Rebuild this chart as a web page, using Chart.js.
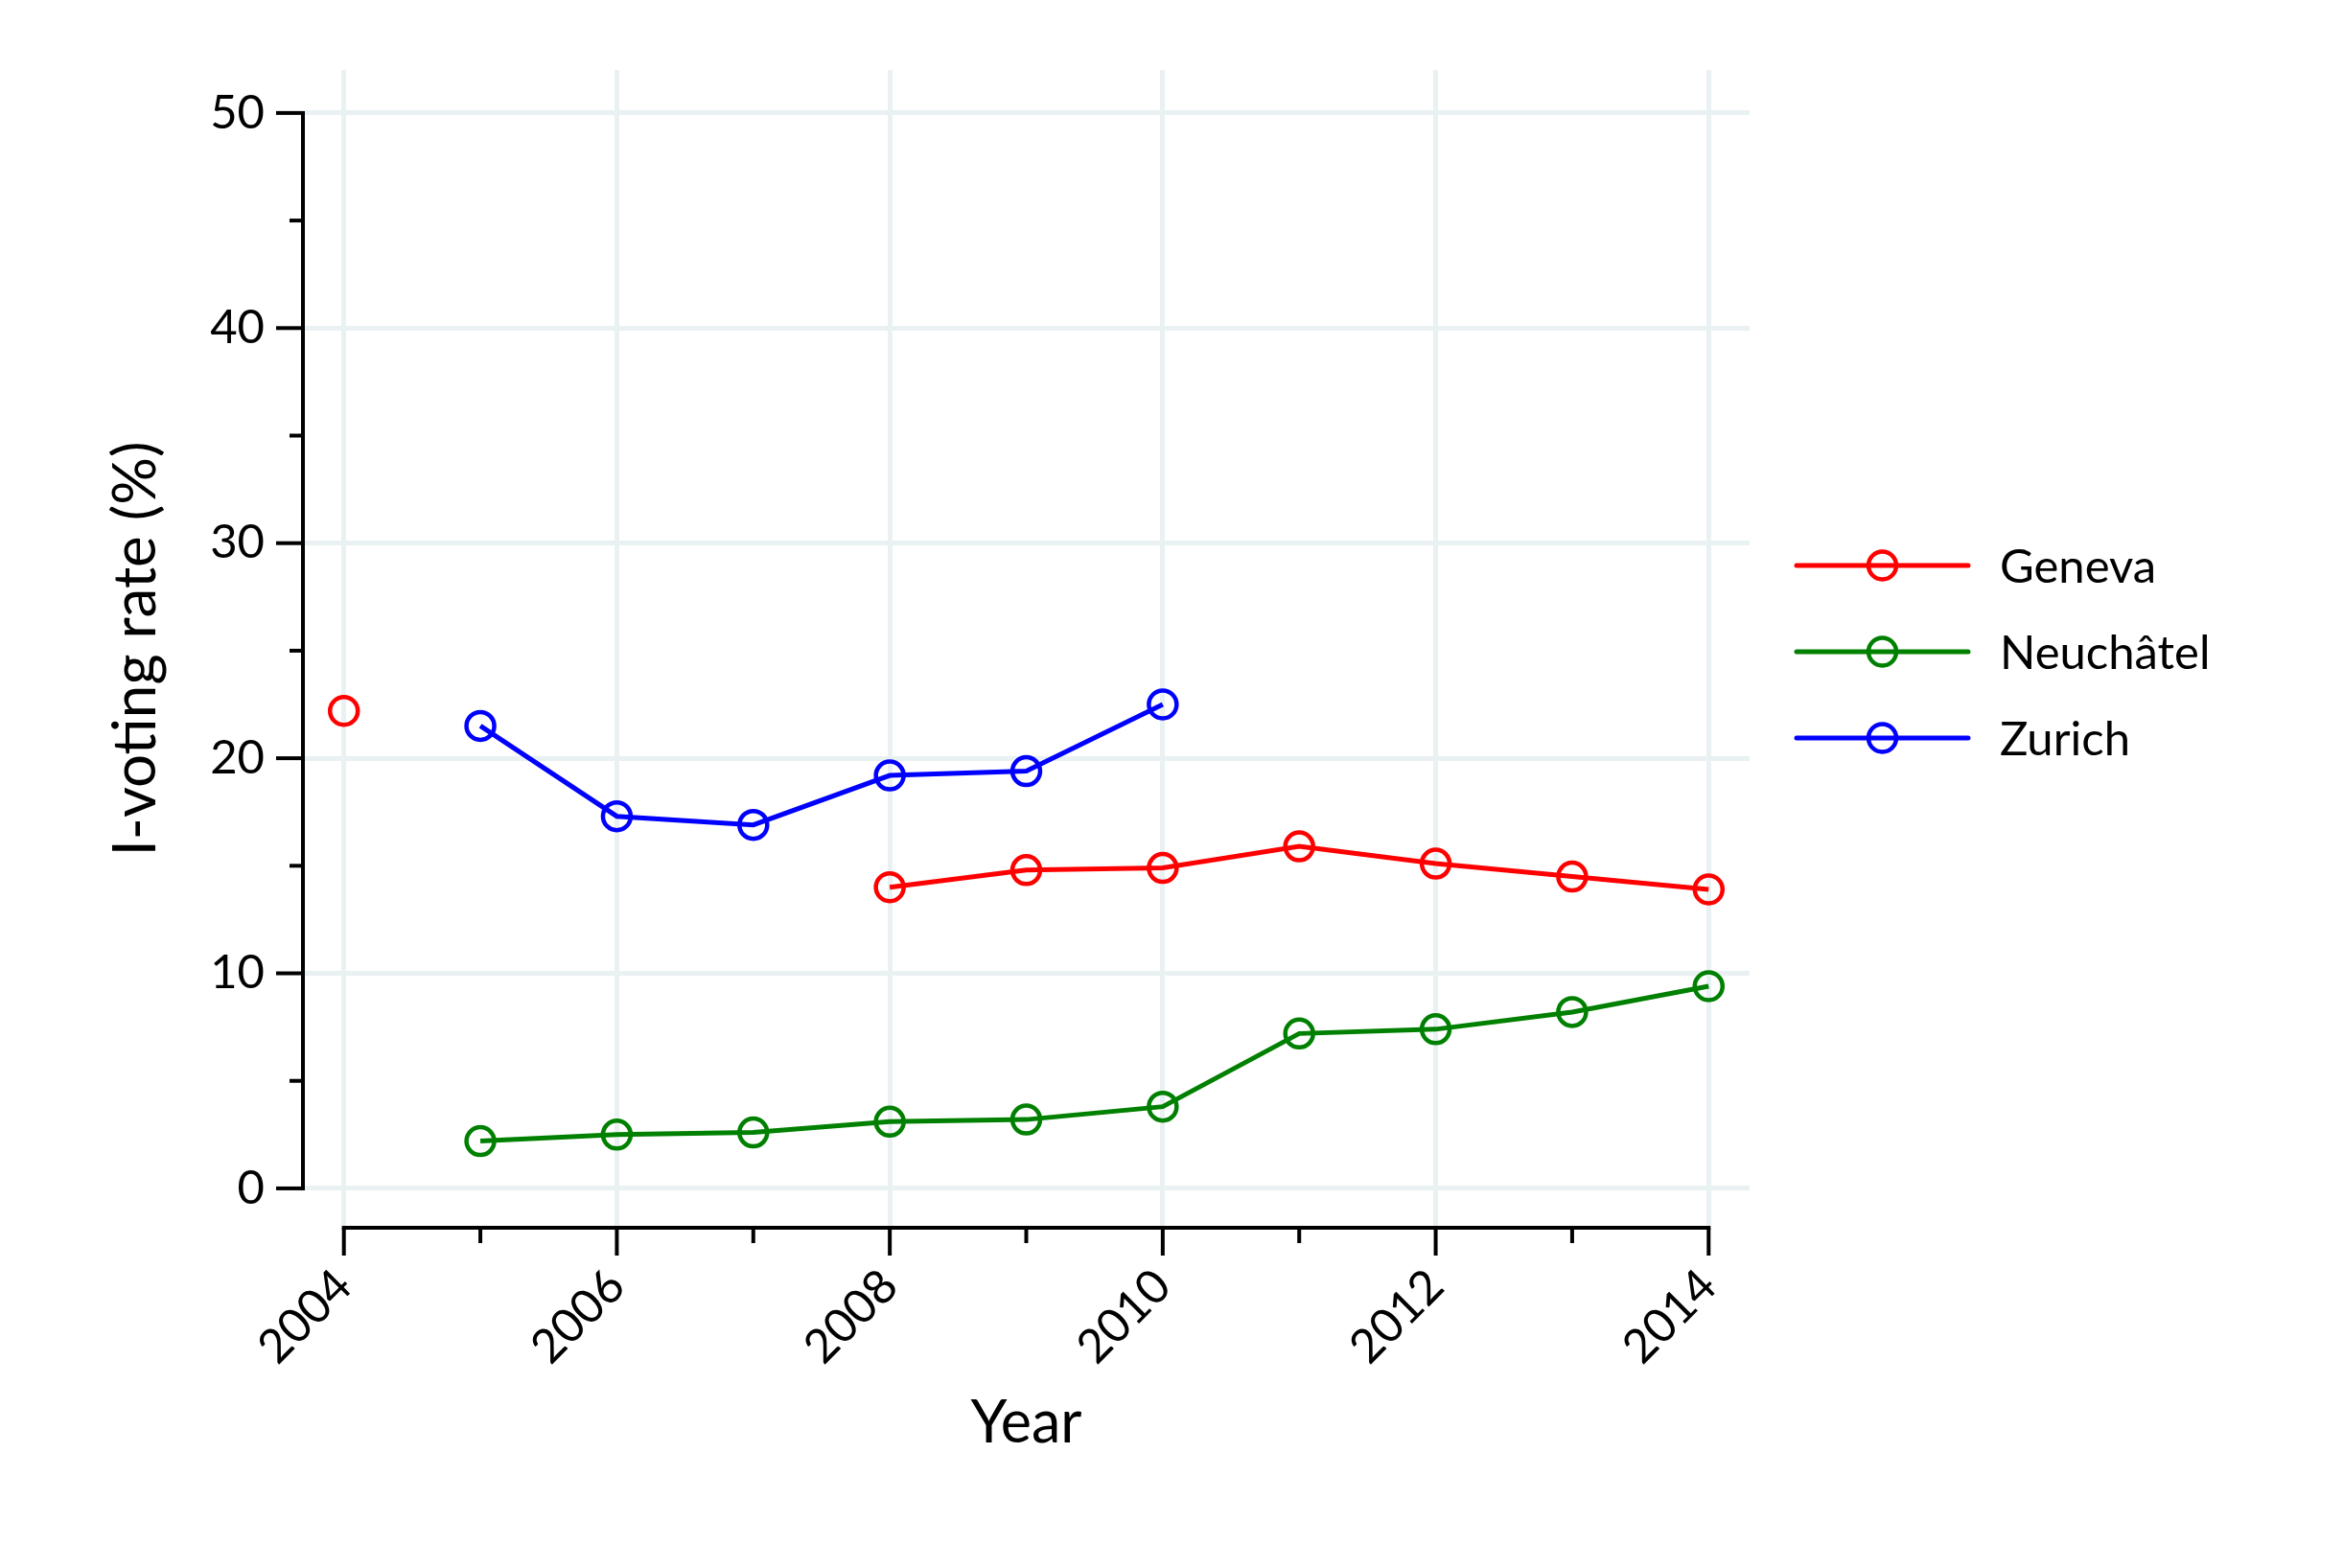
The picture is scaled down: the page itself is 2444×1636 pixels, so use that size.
<!DOCTYPE html>
<html>
<head>
<meta charset="utf-8">
<title>I-voting rate</title>
<script src="https://cdn.jsdelivr.net/npm/chart.js@4/dist/chart.umd.min.js"></script>
<style>
  html, body { margin: 0; padding: 0; background: #fff; }
  #wrap { width: 2444px; height: 1636px; position: relative; }
</style>
</head>
<body>
<div id="wrap"><canvas id="votingChart"></canvas></div>
<script>
// ── data ────────────────────────────────────────────────────────────────
const years     = [2004, 2005, 2006, 2007, 2008, 2009, 2010, 2011, 2012, 2013, 2014];
const geneva    = [22.2, null, null, null, 14.0, 14.8, 14.9, 15.9, 15.1, 14.5, 13.9];
const neuchatel = [null, 2.2, 2.5, 2.6, 3.1, 3.2, 3.8, 7.2, 7.4, 8.2, 9.4];
const zurich    = [null, 21.5, 17.3, 16.9, 19.2, 19.4, 22.5, null, null, null, null];

const xLabels   = [2004, 2006, 2008, 2010, 2012, 2014];
const yTicks    = [0, 5, 10, 15, 20, 25, 30, 35, 40, 45, 50];
const yLabels   = [0, 10, 20, 30, 40, 50];

const gridColor = '#e9f1f3';
const FONT = 'Lato';

function toPoints(values) {
  return years.map((yr, i) => ({ x: yr, y: values[i] }));
}

function series(label, values, color) {
  return {
    label,
    data: toPoints(values),
    borderColor: color,
    backgroundColor: 'rgba(0,0,0,0)',
    borderWidth: 5,
    pointRadius: 14.5,
    pointHoverRadius: 14.5,
    pointBorderWidth: 4.5,
    pointBorderColor: color,
    pointBackgroundColor: 'rgba(0,0,0,0)',
    spanGaps: false,
    tension: 0,
  };
}

// axis lines + major/minor tick marks, spanning only the labelled range
const stataAxes = {
  id: 'stataAxes',
  afterDraw(chart) {
    const { ctx, scales: { x, y }, chartArea } = chart;
    ctx.save();
    ctx.strokeStyle = '#000';
    ctx.lineWidth = 4;
    ctx.lineCap = 'butt';

    // y axis
    const ax = chartArea.left;
    ctx.beginPath();
    ctx.moveTo(ax, y.getPixelForValue(yTicks[0]) + 2);
    ctx.lineTo(ax, y.getPixelForValue(yTicks[yTicks.length - 1]) - 2);
    ctx.stroke();
    yTicks.forEach(v => {
      const py = y.getPixelForValue(v);
      const len = yLabels.includes(v) ? 28 : 14;
      ctx.beginPath();
      ctx.moveTo(ax - len, py);
      ctx.lineTo(ax, py);
      ctx.stroke();
    });

    // x axis
    const ay = chartArea.bottom;
    ctx.beginPath();
    ctx.moveTo(x.getPixelForValue(years[0]) - 2, ay);
    ctx.lineTo(x.getPixelForValue(years[years.length - 1]) + 2, ay);
    ctx.stroke();
    years.forEach(v => {
      const px = x.getPixelForValue(v);
      const len = xLabels.includes(v) ? 29 : 16;
      ctx.beginPath();
      ctx.moveTo(px, ay);
      ctx.lineTo(px, ay + len);
      ctx.stroke();
    });
    ctx.restore();
  }
};

// legend on the right: line with hollow marker, then label
const sideLegend = {
  id: 'sideLegend',
  afterDraw(chart) {
    const { ctx, chartArea } = chart;
    const x0 = chartArea.right + 49;
    const lineW = 179;
    const mid = (chartArea.top + chartArea.bottom) / 2 + 3;
    const rowGap = 90;
    const sets = chart.data.datasets;
    ctx.save();
    sets.forEach((ds, i) => {
      const cy = mid + (i - (sets.length - 1) / 2) * rowGap;
      ctx.strokeStyle = ds.borderColor;
      ctx.lineWidth = 5;
      ctx.lineCap = 'round';
      ctx.beginPath();
      ctx.moveTo(x0, cy);
      ctx.lineTo(x0 + lineW, cy);
      ctx.stroke();
      ctx.lineWidth = 4.5;
      ctx.beginPath();
      ctx.arc(x0 + lineW / 2, cy, 14.5, 0, Math.PI * 2);
      ctx.stroke();
      ctx.fillStyle = '#000';
      ctx.font = `49px ${FONT}`;
      ctx.textBaseline = 'middle';
      ctx.textAlign = 'left';
      ctx.fillText(ds.label, x0 + lineW + 33, cy + 2);
    });
    ctx.restore();
  }
};

new Chart(document.getElementById('votingChart'), {
  type: 'line',
  data: {
    datasets: [
      series('Geneva', geneva, '#ff0000'),
      series('Neuchâtel', neuchatel, '#008000'),
      series('Zurich', zurich, '#0000ff'),
    ],
  },
  options: {
    responsive: true,
    maintainAspectRatio: false,
    animation: false,
    events: [],
    layout: { padding: { top: 73, right: 619, left: 0, bottom: 0 } },
    plugins: {
      legend: { display: false },
      tooltip: { enabled: false },
    },
    scales: {
      x: {
        type: 'linear',
        min: 2003.7,
        max: 2014.3,
        afterBuildTicks: (scale) => { scale.ticks = years.map(v => ({ value: v })); },
        afterFit: (scale) => { scale.height = 355; },
        border: { display: false },
        grid: {
          drawTicks: false,
          lineWidth: 5,
          color: (c) => (c.tick && xLabels.includes(c.tick.value) ? gridColor : 'rgba(0,0,0,0)'),
        },
        ticks: {
          autoSkip: false,
          minRotation: 45,
          maxRotation: 45,
          padding: 32,
          color: '#000',
          font: { family: FONT, size: 49 },
          callback: (v) => (xLabels.includes(v) ? String(v) : ''),
        },
        title: {
          display: true,
          text: 'Year',
          color: '#000',
          font: { family: FONT, size: 61 },
          padding: { top: 0, bottom: 114 },
        },
      },
      y: {
        type: 'linear',
        min: -1.83,
        max: 52,
        afterBuildTicks: (scale) => { scale.ticks = yTicks.map(v => ({ value: v })); },
        afterFit: (scale) => { scale.width = 316; },
        border: { display: false },
        grid: {
          drawTicks: false,
          lineWidth: 5,
          color: (c) => (c.tick && yLabels.includes(c.tick.value) ? gridColor : 'rgba(0,0,0,0)'),
        },
        ticks: {
          padding: 40,
          color: '#000',
          font: { family: FONT, size: 49 },
          callback: (v) => (yLabels.includes(v) ? String(v) : ''),
        },
        title: {
          display: true,
          text: 'I-voting rate (%)',
          color: '#000',
          font: { family: FONT, size: 62 },
          padding: { top: 105, bottom: 0 },
        },
      },
    },
  },
  plugins: [stataAxes, sideLegend],
});
</script>
</body>
</html>
